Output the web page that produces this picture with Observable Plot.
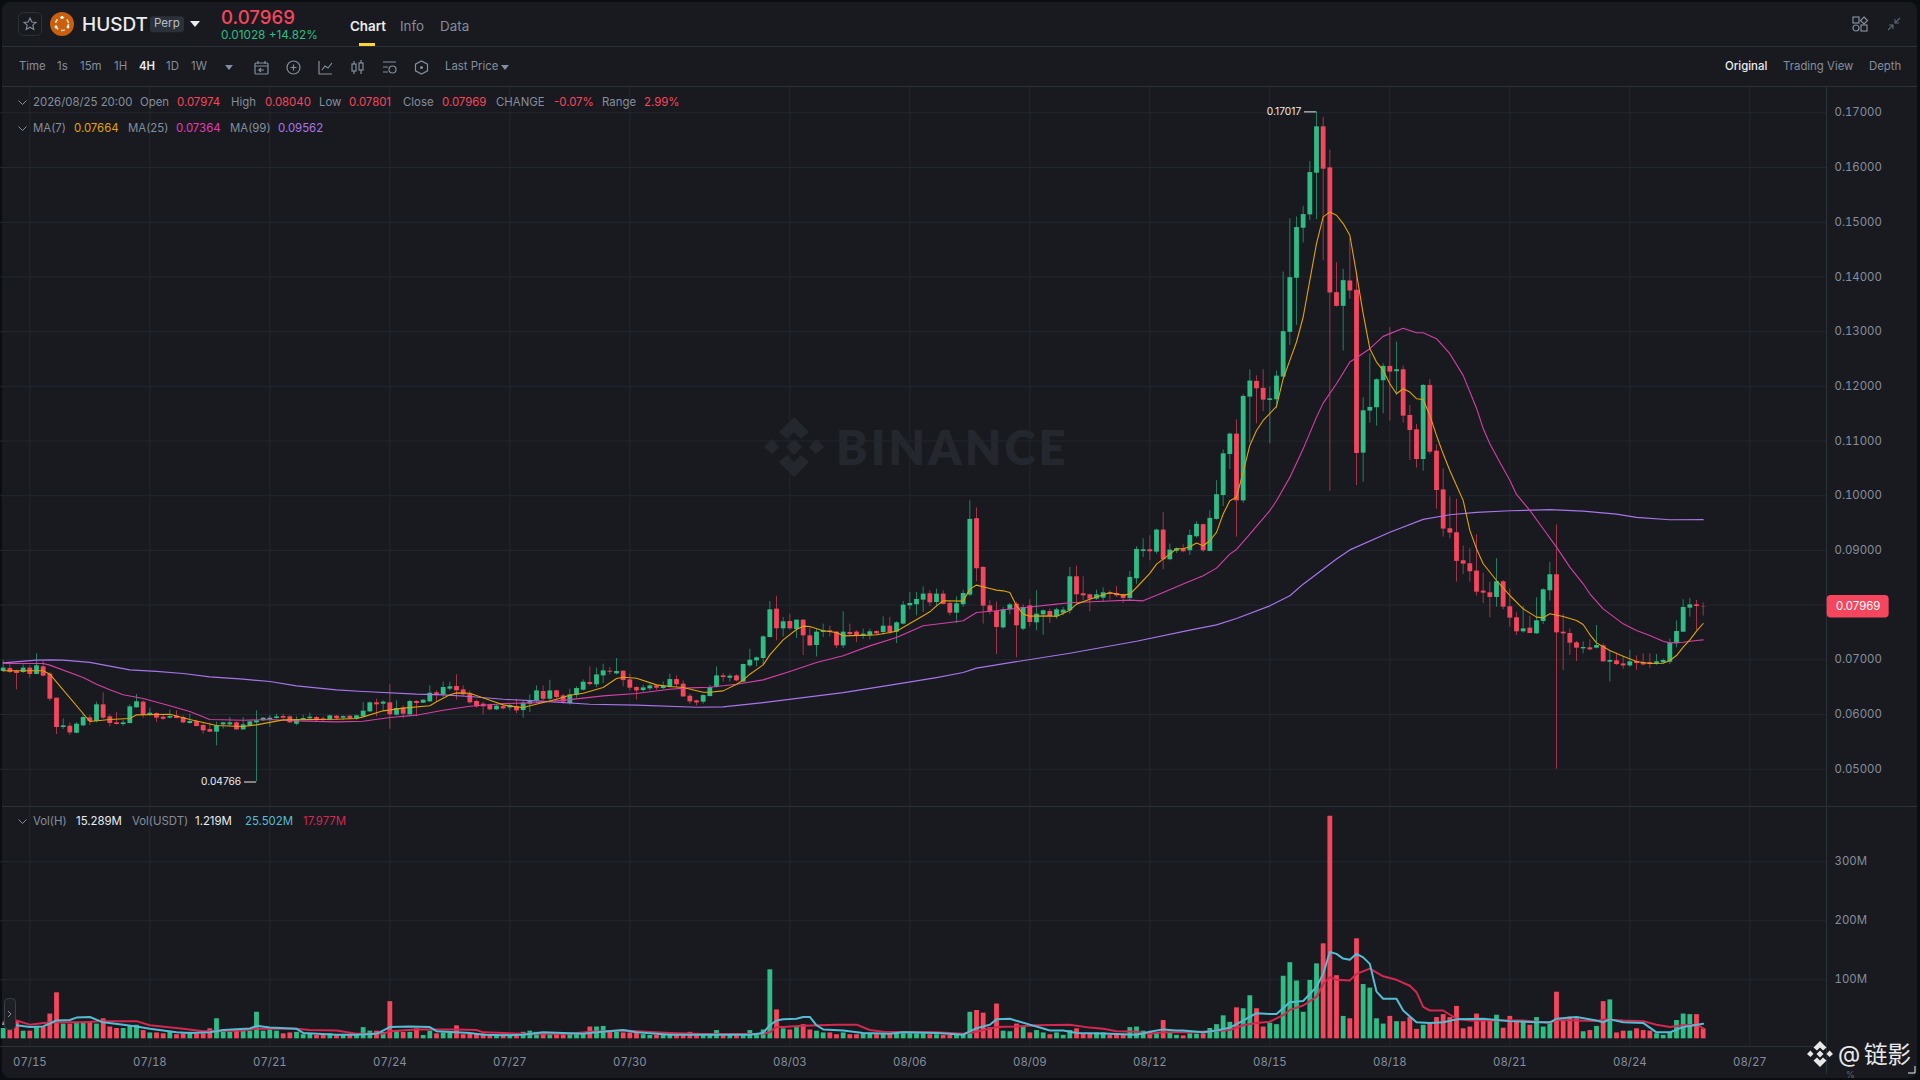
<!DOCTYPE html>
<html>
<head>
<meta charset="utf-8">
<title>HUSDT Perp 4H</title>
<script src="https://cdn.jsdelivr.net/npm/d3@7"></script>
<script src="https://cdn.jsdelivr.net/npm/@observablehq/plot@0.6"></script>
<style>
html,body{margin:0;padding:0;background:#0b0e11;overflow:hidden}
#root{position:relative;width:1920px;height:1080px;overflow:hidden;font-family:Inter,"Noto Sans",sans-serif}
#panel{position:absolute;left:2px;top:2px;width:1915px;height:1076px;background:#181a20;border-radius:8px}
.t{position:absolute;white-space:nowrap;transform:translateY(-50%);line-height:1}
.hr{position:absolute;background:#2b3139;height:1px}
svg.ic{position:absolute;overflow:visible}
.plot{position:absolute;left:0}
</style>
</head>
<body>
<div id="root"><div id="panel"></div></div>
<script>
// ---- data, candle index 0 = 07/14 08:00, one candle every 4 hours; prices in 1e-5 USDT ----
const opens=[6787,6842,6787,6768,6848,6732,6872,6738,6299,5762,
5786,5658,5793,5939,5872,6177,5957,5847,5817,5835,
6122,6226,5982,6018,5951,5933,5969,5945,5835,5872,
5799,5725,5677,5811,5811,5847,5719,5786,5847,5884,
5902,5927,5963,5957,5823,5902,5921,5945,5921,5902,
5969,5933,5969,5921,5957,6049,6213,6189,6213,5988,
6116,5994,6238,6207,6232,6396,6360,6464,6512,6451,
6372,6238,6189,6177,6085,6145,6121,6145,6072,6188,
6249,6420,6279,6432,6340,6200,6353,6444,6584,6542,
6706,6792,6743,6792,6633,6493,6438,6469,6523,6475,
6493,6639,6554,6334,6249,6225,6328,6493,6706,6664,
6706,6591,6889,6981,7024,7408,7926,7567,7701,7554,
7725,7438,7262,7499,7530,7506,7255,7499,7506,7432,
7445,7518,7499,7615,7506,7652,7987,8006,8091,8207,
8048,8201,8030,7853,8006,8183,9580,8689,7987,7884,
7584,7914,8017,7560,7987,7676,7822,7883,7792,7853,
7896,8518,8207,8189,8109,8128,8225,8213,8189,8122,
8481,8982,9012,8969,9372,8829,8982,9024,8994,9250,
9470,8982,9567,10003,10754,11126,9906,11803,12090,11962,
11742,11754,12169,12986,13975,14890,15134,15896,16744,15994,
13712,13462,13926,13755,10778,11547,11608,12102,12364,12267,
12303,11467,11205,10662,12016,10815,10107,9396,9323,8811,
8756,8622,8256,8225,8140,8427,7969,7768,7512,7579,
7475,7701,8262,8555,7505,7481,7310,7200,7219,7213,
7255,6956,6981,6925,6889,6969,6950,6950,6919,6944,
6956,7292,7505,7945,8005,7974];
const closes=[6848,6768,6750,6848,6732,6890,6701,6280,5762,5793,
5664,5823,5945,5872,6177,5933,5835,5817,5847,6140,
6232,5982,6024,5933,5914,5963,5927,5847,5872,5780,
5701,5677,5793,5847,5847,5719,5811,5866,5884,5933,
5933,5957,5933,5847,5902,5927,5951,5902,5896,5976,
5921,5963,5921,5976,6061,6213,6177,6226,5994,6110,
6006,6238,6201,6262,6390,6360,6494,6506,6433,6360,
6213,6140,6140,6085,6152,6103,6164,6066,6206,6249,
6432,6279,6432,6310,6225,6359,6475,6591,6548,6725,
6798,6774,6786,6621,6481,6432,6487,6523,6481,6517,
6639,6542,6322,6231,6212,6347,6493,6706,6676,6700,
6615,6914,6993,7036,7420,7914,7567,7695,7567,7725,
7438,7255,7506,7530,7499,7255,7506,7463,7426,7469,
7512,7475,7615,7493,7676,8000,8030,8103,8201,8042,
8201,8012,7853,8024,8213,9567,8665,7981,7884,7591,
7914,8005,7621,7957,7682,7835,7896,7792,7914,7908,
8518,8189,8170,8109,8189,8225,8195,8170,8122,8506,
9018,9012,8975,9372,8829,9006,9030,8975,9274,9476,
8994,9585,10018,10766,11126,9906,11815,12096,11955,11748,
11772,12187,12999,13987,14902,15140,15908,16744,15969,13706,
13462,13932,13743,10772,11553,11614,12120,12364,12260,12303,
11455,11193,10662,12016,10796,10095,9390,9317,8799,8750,
8610,8237,8219,8140,8427,7963,7762,7512,7566,7481,
7713,8280,8555,7493,7475,7304,7213,7225,7182,7261,
6963,6987,6913,6889,6963,6932,6907,6919,6963,6987,
7304,7517,7957,8005,7974,7969];
const highs=[6982,6933,6811,6909,6890,7110,6970,6769,6299,5921,
5847,5847,6006,5988,6226,6396,5988,6037,5896,6177,
6366,6250,6116,6030,5994,6079,6067,5976,6006,5896,
5835,5847,5860,5860,5945,5866,5945,5878,6067,5945,
5982,6006,6006,5976,5957,5988,6024,5963,5957,5988,
5982,5976,5988,5988,6220,6232,6280,6250,6543,6250,
6159,6262,6250,6268,6525,6433,6592,6592,6726,6525,
6433,6262,6220,6189,6177,6176,6188,6279,6249,6359,
6523,6523,6627,6444,6371,6462,6505,6633,6871,6847,
6920,6859,7024,6798,6737,6505,6536,6554,6536,6597,
6737,6706,6615,6371,6261,6359,6536,6871,6749,6737,
6725,6920,7194,7054,7438,8067,8158,7774,7835,7730,
7730,7609,7560,7652,7615,7518,7878,7652,7530,7560,
7560,7530,7786,7780,7695,8067,8231,8231,8335,8262,
8292,8262,8067,8152,8274,9909,9775,8701,8079,8055,
7957,8036,8048,8005,8097,8262,7908,7926,7944,7957,
8689,8713,8518,8201,8274,8317,8262,8341,8201,8616,
9067,9213,9268,9390,9695,9116,9042,9104,9372,9524,
9482,9725,10275,10839,11144,11388,11852,12303,12193,12303,
11986,12279,14090,15066,15097,15292,16110,17017,16915,16317,
14261,14139,14700,14090,11791,12596,12138,12413,13072,12809,
12370,11650,11303,12035,12120,10931,10491,9976,9933,9079,
9030,9287,8585,8420,8847,8451,8298,7859,7975,7798,
8134,8298,8780,9464,7829,7566,7335,7329,7365,7627,
7292,7158,7109,7060,7170,7072,7109,7109,7097,7017,
7377,7713,8097,8122,8085,8040];
const lows=[6768,6750,6451,6750,6665,6726,6689,6238,5634,5725,
5616,5646,5774,5799,5847,5908,5774,5811,5786,5829,
6116,5933,5969,5854,5890,5921,5921,5829,5823,5774,
5640,5671,5427,5732,5774,5713,5713,5774,4766,5872,
5762,5914,5914,5835,5793,5896,5908,5872,5854,5884,
5902,5896,5902,5896,5945,6037,5957,6055,5732,5976,
5921,5957,5957,6201,6220,6220,6311,6433,6262,6323,
6189,6116,5994,6067,6073,6084,6066,6017,5932,6035,
6218,6249,6261,6279,6188,6170,6298,6432,6523,6493,
6566,6725,6725,6505,6432,6267,6408,6432,6444,6456,
6481,6493,6310,6188,6157,6188,6322,6481,6591,6591,
6597,6578,6859,6871,6902,7396,7347,7420,7542,7390,
7079,7243,7054,7408,7420,7207,7207,7420,7316,7377,
7365,7457,7451,7457,7298,7640,7914,7804,7865,7969,
7969,8006,7804,7664,7957,8152,8427,7652,7823,7097,
7560,7822,7040,7530,7603,7530,7450,7670,7743,7804,
7834,8018,8079,7878,8091,8048,8091,8140,8030,8067,
8383,8871,8810,8932,8646,8810,8945,8957,8908,9225,
8963,8975,9555,9802,10479,9241,9863,10961,11315,11535,
10949,11589,12157,12748,13114,14621,15024,15048,14292,10083,
13450,12645,13590,10186,10247,11327,11272,11498,11364,11833,
11327,10644,10504,10449,10754,9753,9244,9213,8420,8561,
8420,8164,8024,7768,7963,7914,7597,7444,7487,7475,
7468,7646,8073,5000,6804,7078,6969,7109,7164,7200,
6956,6596,6895,6828,6865,6804,6889,6840,6901,6925,
6913,7219,7499,7780,7536,7801];
// volume in millions
const volumes=[17.5,14,31,13,13,20,20,42,78,25,
25,28,28,28,25,34,20,17.5,17.5,22,
23,14,10,10,8.5,11,7,8.5,11,8.5,
8.5,17,34,14,11,14,13,13,45,13,
15,13,8.5,10,11,7,8.5,5.6,5.6,8.5,
5.6,7,5.6,8.5,19,13,13,11,63,14,
11,11,17,5.6,13,8.5,10,10,22,7,
8.5,8.5,8.5,5.6,6.8,6.8,5.6,4,11,13,
11,8.5,7,8.5,7,8.5,7,7,20,20,
21,11,11,10,10,11,7,5.6,5.6,6.8,
5.6,6.8,6.8,11,5.6,5.6,5.6,14,5.6,6.8,
5.6,8.5,14,8.5,15,117,49,17,15,19,
24,15,13,10,10,7,10,7,7,8.5,
8.5,7,8.5,7,10,8.5,8.5,8.5,8.5,7,
7,5.6,5.6,7,7,45,48,43.5,19,59,
13,12,25,20,10,14,10,7,10,6,
14,17,8.5,8.5,10,10,6,6,7,19,
20,13,11,10,31,9,6,5,8.5,8,
8.5,17.5,24,39,28,52.5,51,73,51,20,
26.5,24,106,129,98,45,99,127,161,377,
107,38,34,169.5,92,86,34,25,38,29,
29,36,16,23,25,36,41,36,55,17,
20,42,31,32,40,18,38,28,31,23,
36,20,28,79,31,37,34,12,14,21,
63,66,10,13,13,17,14,13,8.5,6,
11,31,42,41,41,17];

// moving averages: [candle index, value]
const ma7=[[0,6799],[6,6799],[7,6738],[13,5872],[16,5908],[19,5927],[20,5994],[25,6006],[28,5908],[32,5799],[36,5780],[38,5811],[42,5902],[50,5914],[53,5927],[54,5957],[57,6067],[60,6116],[64,6159],[65,6232],[67,6360],[68,6396],[70,6390],[74,6220],
[75,6176],[77,6139],[78,6127],[81,6218],[83,6279],[85,6353],[87,6389],[90,6493],[92,6658],[93,6682],[95,6664],[98,6542],[100,6511],[102,6493],[105,6408],[106,6408],[108,6432],[110,6554],[111,6627],[112,6737],[114,6908],[115,7091],[117,7365],[119,7554],[120,7615],[121,7609],[123,7530],[125,7499],[126,7438],[130,7451],[131,7457],[133,7499],[134,7524],[136,7664],[138,7805],[139,7878],[140,7987],[141,8079],[144,8073],[145,8292],[146,8366],[148,8305],[149,8274],
[150,8261],[151,8231],[152,7987],[153,7835],[154,7798],[157,7804],[158,7792],[160,7908],[161,8018],[163,8109],[165,8189],[166,8225],[168,8182],[169,8201],[170,8322],[172,8579],[173,8749],[175,8933],[176,9030],[177,9030],[178,9067],[179,9134],[180,9085],[181,9177],[182,9329],[183,9665],[184,9909],
[185,9973],[186,10430],[187,10919],[188,11193],[189,11376],[191,11632],[192,12139],[193,12474],[194,12810],[195,13267],[196,13938],[197,14609],[198,15097],[199,15189],[200,15128],[201,14975],[202,14762],[203,14060],[204,13328],[205,12688],[206,12444],[207,12291],[208,12047],[209,11864],[210,11956],[211,11895],[212,11773],[213,11760],[214,11467],[215,11102],[216,10766],[217,10461],[218,10186],[219,9915],
[220,9366],[221,9030],[222,8756],[224,8450],[226,8176],[228,7932],[230,7780],[231,7767],[232,7841],[234,7792],[236,7718],[237,7645],[238,7462],[239,7310],[241,7170],[243,7066],[245,6968],[247,6932],[249,6938],[250,6987],[251,7078],[252,7231],[253,7365],[254,7523],[255,7664]];
const ma25=[[0,6933],[6,6933],[7,6903],[12,6677],[14,6555],[16,6451],[18,6360],[21,6293],[25,6159],[28,6055],[31,5908],[36,5896],[40,5908],[44,5884],[50,5866],[54,5878],[58,5945],[62,5988],[66,6079],[70,6152],[74,6189],
[75,6200],[80,6218],[85,6273],[90,6341],[95,6383],[100,6463],[103,6487],[106,6499],[110,6554],[114,6633],[118,6786],[122,6950],[126,7073],[130,7255],[134,7408],[138,7622],[142,7683],[144,7713],[146,7866],[149,7896],
[150,7914],[158,8018],[160,8042],[165,8072],[169,8091],[171,8078],[174,8231],[177,8384],[180,8536],[182,8676],[184,8932],[185,9018],[187,9299],[190,9726],[191,9908],[193,10335],[195,10857],[197,11437],[198,11693],[200,12047],[202,12444],[203,12523],[205,12688],[207,12913],[210,13060],[212,12980],[213,12980],[215,12870],[217,12596],[219,12200],[221,11600],[222,11230],[223,10950],[224.5,10610],[226,10281],[227,10024],[229,9732],[231,9396],[233,9061],[235,8695],[237,8390],[238,8207],[240,7932],[243,7658],[245,7536],[247,7444],[249,7340],[250,7310],[252,7322],[254,7353],[255,7364]];
const ma99=[[0,6945],[5,6994],[7,7000],[9,6994],[13,6952],[19,6817],[23,6787],[27,6750],[31,6689],[36,6646],[40,6604],[44,6524],[50,6451],[54,6421],[62,6372],[66,6360],[70,6329],[75,6279],[80,6249],[88,6188],[95,6170],[104,6133],[108,6139],[114,6218],[120,6310],[126,6401],[134,6554],[140,6676],[144,6768],[146,6847],[149,6908],[160,7120],[170,7340],[178,7542],[182,7639],[185,7755],[190,7987],[193,8170],[195,8383],[200,8844],[202,9009],[208,9332],[213,9567],[217,9652],[221,9695],[226,9725],[232,9744],[237,9719],[242,9664],[245,9604],[250,9561],[255,9562]];
const volMa5=[[0,25],[2,23],[4,20],[6,21],[8,31],[10,32],[11,36],[13,37],[15,28],[18,24],[20,21],[22,17],[26,11],[28,10],[31,11],[33,15],[37,17.5],[38,22],[40,19],[44,17],[45,10],[50,7],[53,7],[56,8.5],[58,20],[61,21],[64,20],[65,13],[70,10],[72,7],[75,6],[78,7],[81,11],[87,8.5],[89,11],[93,15],[95,11],[100,7],[107,7],[112,7],[114,10],[115,23],[116,31],
[117,33],[119,34],[120,37],[121,37],[122,23],[123,16],[126,14],[129,10],[133,8.5],[135,11],[140,10],[144,7],[146,18],[148,24],[149,33],[151,34],[154,24],[155,21],[157,14],[159,14],[161,10],[165,9],[170,7],[172,12],[174,16],[176,14],
[177,14],[180,11],[182,14],[184,19],[186,31],[188,43.5],[190,42],[191,42],[193,62],[195,64],[197,88],[198,110],[199,147],[200,144],[201,136],[202,134],[203,144],[204,138],[205,127],[206,80],[207,68],[209,68],[210,48],[212,28],[214,27],[216,28],[218,33],[222,34],[226,30],[230,28],[232,28],[233,34],[236,37],[239,31],[240,28],[241,33],[243,28],[246,27],[248,11],[250,11],[252,20],[255,25.5]];
const volMa10=[[0,28],[2,31],[4,24],[6,27],[8,28],[12,28],[15,30],[20,30],[22,23],[27,17],[30,13],[36,14],[38,17],[44,17],[46,15],[50,14],[53,8.5],[57,8.5],[58,13],[62,16],[68,16],[71,15],[72,11],[78,8.5],[85,8.5],[88,12],[93,14],[100,10],[105,8],[114,8.5],[115,11],[116,20],
[117,20],[120,22],[125,24],[128,24],[130,15],[132,12],[140,11],[144,8.5],[146,12],[149,20],[152,21],[155,23],[160,24],[163,19],[165,17],[167,13],[170,12],[172,8.5],[174,11],[176,11],
[178,11],[181,13],[184,15],[186,23],[188,27],[190,29],[192,40],[193,49],[195,56.5],[197,71],[198,93],[199,104.5],[200,100],[202,99],[203,110],[205,119],[207,106],[209,100],[211,90],[212,79],[213,54],[214,48],[216,48],[218,34],[220,31],[224,31],[228,31],[232,27],[233,32],[236,31],[239,30],[240,33],[243,31],[246,30],[248,24],[250,20],[252,23],[254,24],[255,18]];

const priceTicks=[0.05,0.06,0.07,0.08,0.09,0.10,0.11,0.12,0.13,0.14,0.15,0.16,0.17];
const volTicks=[100,200,300];
const dateLabels=["07/15","07/18","07/21","07/24","07/27","07/30","08/03","08/06","08/09","08/12","08/15","08/18","08/21","08/24","08/27"];
const dateIndex=[4,22,40,58,76,94,118,136,154,172,190,208,226,244,262];
const lastPrice=0.07969, highPrice=0.17017, lowPrice=0.04766, highIndex=197, lowIndex=38, lastIndex=255;

// ---- colours ----
const UP="#2ebd85",DOWN="#f6465d",GRID="#23272e",LINE="#2b3139",MUTED="#848e9c",BG="#181a20";
const C7="#e0a30a",C25="#d63fa6",C99="#a874ea",CV5="#54bdd3",CV10="#d3284f";

const candles=opens.map((o,i)=>({i,open:o/1e5,close:closes[i]/1e5,high:highs[i]/1e5,low:lows[i]/1e5,vol:volumes[i],color:closes[i]>=o?UP:DOWN}));
const pts=a=>a.map(([i,v])=>({i,v:v/1e5}));
const vpts=a=>a.map(([i,v])=>({i,v}));
const xScale={domain:[-0.4,273.5],axis:null};
const fmtDate=k=>dateLabels[dateIndex.indexOf(k)];
const SMALL=11.4;
const plotStyle={background:"transparent",color:MUTED,fontFamily:"Inter,sans-serif",fontSize:SMALL+"px",overflow:"visible"};

const root=document.getElementById("root");
function T(s,x,y,o={}){const e=document.createElement("div");e.className="t";e.textContent=s;
 e.style.left=x+"px";e.style.top=y+"px";e.style.fontSize=(o.size||SMALL)+"px";e.style.color=o.c||MUTED;
 if(o.w)e.style.fontWeight=o.w;if(o.ff)e.style.fontFamily=o.ff;if(o.ls)e.style.letterSpacing=o.ls;root.appendChild(e);return e;}
function HR(y){const e=document.createElement("div");e.className="hr";e.style.left="2px";e.style.width="1915px";e.style.top=y+"px";root.appendChild(e);}
function IC(x,y,w,h,inner,vb){const ns="http://www.w3.org/2000/svg";const s=document.createElementNS(ns,"svg");s.setAttribute("class","ic");
 s.setAttribute("viewBox",vb||`0 0 ${w} ${h}`);s.setAttribute("width",w);s.setAttribute("height",h);s.style.left=x+"px";s.style.top=y+"px";s.innerHTML=inner;root.appendChild(s);return s;}
const diamond=(c)=>`<path fill="${c}" d="M30 0 L45 15 L37 22 L30 15 L23 22 L15 15 Z M8 22 L15 30 L8 37 L0 30 Z M52 22 L60 30 L52 37 L45 30 Z M30 22 L38 30 L30 38 L22 30 Z M30 60 L15 45 L23 38 L30 45 L37 38 L45 45 Z"/>`;

// watermark beneath the chart
IC(764,417,60,60,diamond("#24272d"));
T("BINANCE",836,447,{size:47,c:"#24272d",w:800,ls:"3.2px",ff:"Lato,Inter,sans-serif"});

// ---- main chart ----
const main=Plot.plot({
 width:1920,height:720,marginTop:0,marginBottom:0,marginLeft:0,marginRight:94,style:plotStyle,
 x:xScale,
 y:{domain:[0.0430,0.17463],label:null},
 marks:[
  Plot.gridX(dateIndex,{stroke:GRID,strokeOpacity:1}),
  Plot.gridY(priceTicks,{stroke:GRID,strokeOpacity:1}),
  Plot.axisY({anchor:"right",ticks:priceTicks,tickFormat:d=>d.toFixed(5),tickSize:0,tickPadding:8,label:null,fill:MUTED,fontSize:SMALL}),
  Plot.ruleX([273.5],{stroke:LINE}),
  Plot.ruleX(candles,{x:"i",y1:"low",y2:"high",stroke:"color",strokeWidth:1,strokeOpacity:0.62}),
  Plot.ruleX(candles,{x:"i",y1:"open",y2:"close",stroke:"color",strokeWidth:4.8}),
  Plot.line(pts(ma99),{x:"i",y:"v",stroke:C99,strokeWidth:1.2}),
  Plot.line(pts(ma25),{x:"i",y:"v",stroke:C25,strokeWidth:1.1}),
  Plot.line(pts(ma7),{x:"i",y:"v",stroke:C7,strokeWidth:1.1}),
  // extreme price markers
  Plot.ruleY([highPrice],{x1:highIndex-1.8,x2:highIndex,stroke:"#eaecef",strokeWidth:1}),
  Plot.text([highPrice],{x:highIndex-2.3,y:d=>d,text:d=>d.toFixed(5),textAnchor:"end",fill:"#eaecef",fontSize:10.2}),
  Plot.ruleY([lowPrice],{x1:lowIndex-1.8,x2:lowIndex,stroke:"#eaecef",strokeWidth:1}),
  Plot.text([lowPrice],{x:lowIndex-2.3,y:d=>d,text:d=>d.toFixed(5),textAnchor:"end",fill:"#eaecef",fontSize:10.2}),
  // last price tag
  Plot.rect([lastPrice],{x1:273.6,x2:282.9,y1:d=>d-0.00205,y2:d=>d+0.00205,fill:DOWN,rx:4}),
  Plot.text([lastPrice],{x:278.25,y:d=>d,text:d=>d.toFixed(5),fill:"#fff",fontSize:SMALL})
 ]});
main.classList.add("plot");main.style.top="87px";root.appendChild(main);

// ---- volume chart ----
const vol=Plot.plot({
 width:1920,height:273,marginTop:0,marginBottom:34,marginLeft:0,marginRight:94,style:plotStyle,
 x:xScale,
 y:{domain:[-13,392],label:null},
 marks:[
  Plot.gridX(dateIndex,{stroke:GRID,strokeOpacity:1}),
  Plot.gridY(volTicks,{stroke:GRID,strokeOpacity:1}),
  Plot.axisY({anchor:"right",ticks:volTicks,tickFormat:d=>d+"M",tickSize:0,tickPadding:8,label:null,fill:MUTED,fontSize:SMALL}),
  Plot.axisX({ticks:dateIndex,tickFormat:fmtDate,tickSize:0,tickPadding:11,label:null,fill:MUTED,fontSize:SMALL}),
  Plot.ruleX([273.5],{stroke:LINE,y1:-60,y2:392}),
  Plot.ruleY([-13],{stroke:LINE}),
  Plot.ruleX(candles,{x:"i",y1:0,y2:"vol",stroke:"color",strokeWidth:4.8}),
  Plot.line(vpts(volMa10),{x:"i",y:"v",stroke:CV10,strokeWidth:2}),
  Plot.line(vpts(volMa5),{x:"i",y:"v",stroke:CV5,strokeWidth:2})
 ]});
vol.classList.add("plot");vol.style.top="807px";root.appendChild(vol);

// ---- chrome ----
HR(46);HR(86);HR(806);
// star and coin
IC(18,12,24,24,`<rect x=".5" y=".5" width="23" height="23" rx="5" fill="none" stroke="#2b3139"/><path d="M12 6l1.8 4 4.2.4-3.2 2.8 1 4.2-3.8-2.2-3.8 2.2 1-4.2-3.2-2.8 4.2-.4z" fill="none" stroke="#848e9c" stroke-width="1.1"/>`);
IC(50,12,24,24,`<circle cx="12" cy="12" r="12" fill="#c9600f"/><circle cx="12" cy="12" r="6.5" fill="none" stroke="#f3d9c0" stroke-width="1.6" stroke-dasharray="4 3"/><circle cx="12" cy="5.5" r="1.4" fill="#fff"/><circle cx="6" cy="15" r="1.4" fill="#fff"/><circle cx="18" cy="15" r="1.4" fill="#fff"/>`);
T("HUSDT",82,24,{size:19,c:"#eaecef",w:500});
const pb=T("Perp",150,24,{size:11.6,c:"#b7bdc6"});pb.style.background="#2b3139";pb.style.padding="2px 4px";pb.style.borderRadius="3px";
IC(190,21,10,6,`<path d="M0 0h10L5 6z" fill="#eaecef"/>`);
T("0.07969",221,17,{size:18.6,c:DOWN,w:500});
T("0.01028 +14.82%",221,36,{size:11.8,c:UP});
T("Chart",350,27,{size:13.4,c:"#eaecef",w:600});
IC(359,43,16,3,`<rect width="16" height="3" fill="#fcd535"/>`);
T("Info",400,27,{size:13.4});T("Data",440,27,{size:13.4});
[["Time",19],["1s",57],["15m",80],["1H",114],["4H",139,"#eaecef"],["1D",166],["1W",191],["Last Price",445]].forEach(([s,x,c])=>T(s,x,67,{c:c||MUTED,w:c?600:400}));
IC(225,65,8,5,`<path d="M0 0h8L4 5z" fill="#848e9c"/>`);
IC(501,65,8,5,`<path d="M0 0h8L4 5z" fill="#848e9c"/>`);
const st=`fill="none" stroke="#848e9c" stroke-width="1.2"`;
IC(254,60,15,15,`<rect x="1" y="3" width="13" height="11" rx="1" ${st}/><path d="M1 6h13M4 1v3M11 1v3M10 10H5l2-2M5 10l2 2" ${st}/>`);
IC(286,60,15,15,`<circle cx="7.5" cy="7.5" r="6.5" ${st}/><path d="M7.5 4.5v6M4.5 7.5h6" ${st}/>`);
IC(318,60,15,15,`<path d="M1 1v13h13M4 10l3-4 3 2 4-5" ${st}/>`);
IC(350,60,15,15,`<rect x="2" y="4" width="4" height="7" ${st}/><rect x="9" y="3" width="4" height="7" ${st}/><path d="M4 1v3M4 11v3M11 0v3M11 10v4" ${st}/>`);
IC(382,60,15,15,`<path d="M1 2h13M1 7h5M1 12h5" ${st}/><circle cx="10.5" cy="9.5" r="3.5" ${st}/>`);
IC(414,60,15,15,`<path d="M7.5 1l6 3.2v6.6l-6 3.2-6-3.2V4.200z" ${st}/><circle cx="7.500" cy="7.500" r="1.500" fill="#848e9c"/>`);
T("Original",1725,67,{c:"#eaecef",w:500});T("Trading View",1783,67);T("Depth",1869,67);
IC(1852,16,16,16,`<rect x="1" y="1" width="6" height="6" ${st}/><path d="M12 1l3.500 3.500L12 8 8.500 4.500z" ${st}/><circle cx="4" cy="12" r="3" ${st}/><rect x="9" y="9" width="6" height="6" ${st}/>`);
IC(1887,17,14,14,`<path d="M8 6l5-5M8 2v4h4M6 8l-5 5M6 12V8H2" fill="none" stroke="#5e6673" stroke-width="1.100"/>`);
const chev=(x,y)=>IC(x,y,9,6,`<path d="M.5 .5l4 4 4-4" fill="none" stroke="#848e9c" stroke-width="1"/>`);
chev(18,100);chev(18,126);chev(18,819);
// OHLC legend
T("2026/08/25 20:00",33,103);T("Open",140,103);T("0.07974",177,103,{c:DOWN});T("High",231,103);T("0.08040",265,103,{c:DOWN});
T("Low",319,103);T("0.07801",349,103,{c:DOWN});T("Close",403,103);T("0.07969",442,103,{c:DOWN});T("CHANGE",496,103);T("-0.07%",554,103,{c:DOWN});T("Range",602,103);T("2.99%",644,103,{c:DOWN});
T("MA(7)",33,129);T("0.07664",74,129,{c:C7});T("MA(25)",128,129);T("0.07364",176,129,{c:"#e33bb5"});T("MA(99)",230,129);T("0.09562",278,129,{c:C99});
// volume legend
T("Vol(H)",33,822);T("15.289M",76,822,{c:"#eaecef"});T("Vol(USDT)",132,822);T("1.219M",195,822,{c:"#eaecef"});T("25.502M",245,822,{c:CV5});T("17.977M",303,822,{c:CV10});
// side handle
IC(4,998,12,32,`<rect x=".5" y=".5" width="11" height="31" rx="4" fill="#1e2026" stroke="#3a4048"/><path d="M4 13l3 3-3 3" fill="none" stroke="#848e9c"/>`);
// bottom right
T("%",1846,1074,{size:9,c:"#5e6673"});
IC(1908,1066,8,8,`<path d="M7 0v7H0" fill="none" stroke="#eaecef" stroke-width="1"/>`);
IC(1807,1041,26,26,diamond("#e8e8e8"),"0 0 60 60");
T("@",1838,1054,{size:23,c:"#e8e8e8"});
T("链影",1864,1054,{size:23.5,c:"#e8e8e8",ff:'"Noto Sans CJK SC",sans-serif'});
</script>
</body>
</html>
